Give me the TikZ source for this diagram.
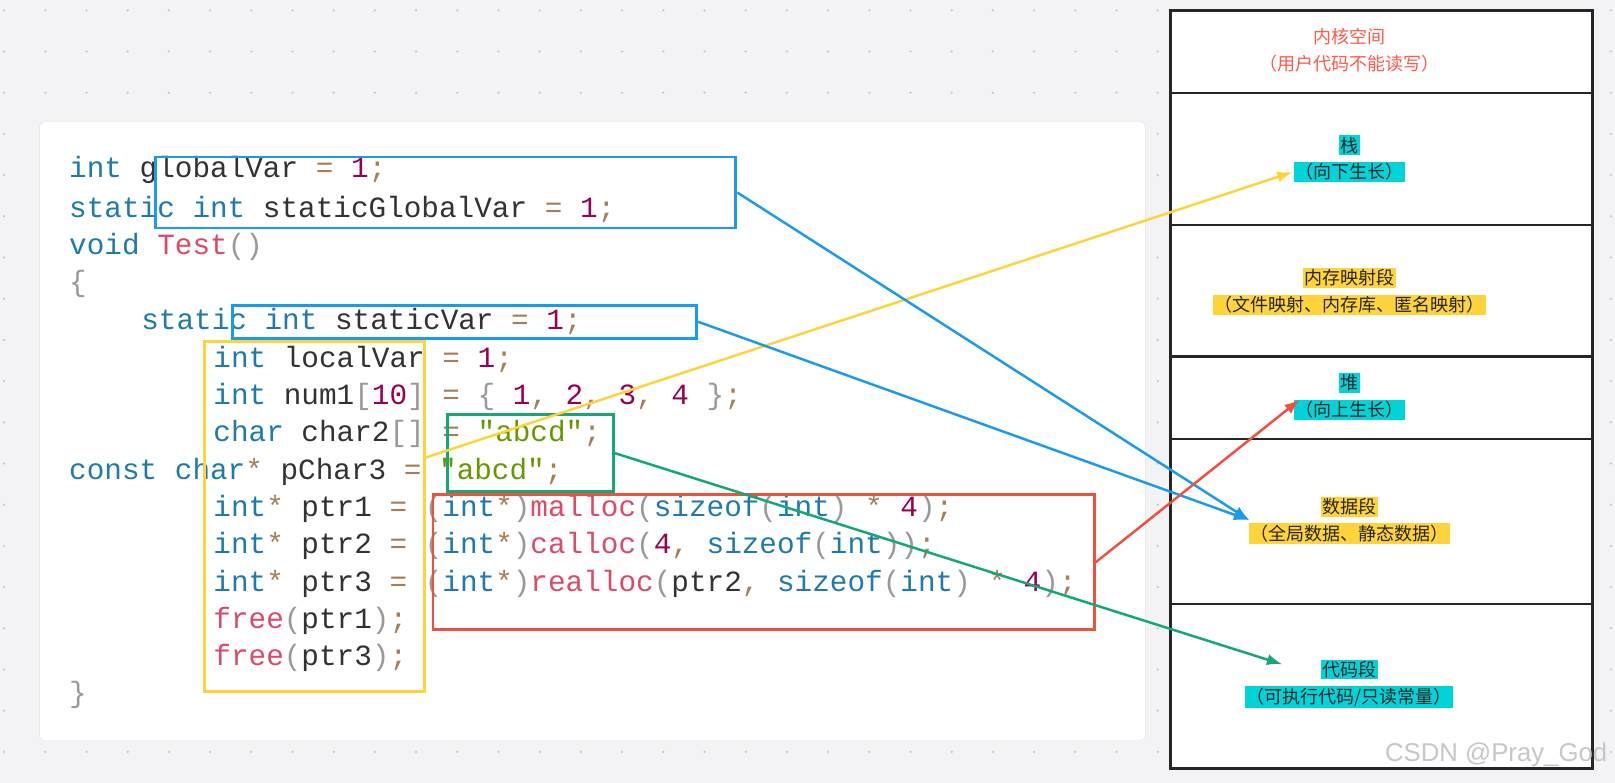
\documentclass[tikz,border=0pt]{standalone}
\usepackage{fontspec}
\setmonofont{Liberation Mono}
\newfontfamily\cjk{Noto Sans CJK SC}
\usetikzlibrary{arrows.meta}
\definecolor{bg}{HTML}{F3F3F5}
\definecolor{kw}{HTML}{1F7AAE}
\definecolor{pu}{HTML}{A67F59}
\definecolor{nmc}{HTML}{990055}
\definecolor{stc}{HTML}{669900}
\definecolor{fnc}{HTML}{DD4A68}
\definecolor{brc}{HTML}{999999}
\definecolor{idc}{HTML}{333333}
\definecolor{bb}{HTML}{1A9BF0}
\definecolor{yb}{HTML}{FFD43B}
\definecolor{gb}{HTML}{14A874}
\definecolor{rb}{HTML}{F2503F}
\definecolor{cy}{HTML}{00D4D8}
\definecolor{ye}{HTML}{FFD43B}
\definecolor{kred}{HTML}{FF5A4A}
\newcommand\kw[1]{\textcolor{kw}{#1}}
\newcommand\pu[1]{\textcolor{pu}{#1}}
\newcommand\nm[1]{\textcolor{nmc}{#1}}
\newcommand\cst[1]{\textcolor{stc}{#1}}
\newcommand\cfn[1]{\textcolor{fnc}{#1}}
\newcommand\cbr[1]{\textcolor{brc}{#1}}
\begin{document}
\begin{tikzpicture}[x=1pt,y=-1pt,
  code/.style={anchor=west,inner sep=0pt,font=\ttfamily\fontsize{28.5}{30}\selectfont,text=idc},
  hl/.style={draw=#1,line width=2.8pt,anchor=north west,inner sep=0pt},
  seg/.style={draw=black!85,line width=2.6pt,fill=white,anchor=north west,minimum width=410,inner sep=0pt},
  lab/.style={font=\cjk\fontsize{17.5}{19}\selectfont,inner sep=1.5pt,text=black!85},
  arr/.style={line width=2.4pt,draw=#1,-{Latex[length=15pt,width=11pt]}}]
\fill[bg] (0,0) rectangle (1568,760);
\useasboundingbox (0,0) rectangle (1568,760);
\foreach \i in {0,...,39}{\foreach \j in {0,...,18}{\fill[black!22] (4+\i*40,10+\j*40) circle (1.2);}}
\node[draw=black!12,fill=white!98!bg,rounded corners=6,anchor=north west,minimum width=1074,minimum height=601,inner sep=0pt] (panel) at (38,118) {};
% code
\node[code] (l1) at (67,165) {\kw{int} globalVar \pu{=} \nm{1}\pu{;}};
\node[code] (l2) at (67,203) {\kw{static int} staticGlobalVar \pu{=} \nm{1}\pu{;}};
\node[code] (l3) at (67,240) {\kw{void} \cfn{Test}\cbr{()}};
\node[code] (l4) at (67,276) {\cbr{\{}};
\node[code] (l5) at (137,312) {\kw{static int} staticVar \pu{=} \nm{1}\pu{;}};
\node[code] (l6) at (207,349) {\kw{int} localVar \pu{=} \nm{1}\pu{;}};
\node[code] (l7) at (207,385) {\kw{int} num1\cbr{[}\nm{10}\cbr{]} \pu{=} \cbr{\{} \nm{1}\pu{,} \nm{2}\pu{,} \nm{3}\pu{,} \nm{4} \cbr{\}}\pu{;}};
\node[code] (l8) at (207,421) {\kw{char} char2\cbr{[]} \pu{=} \cst{"abcd"}\pu{;}};
\node[code] (l9) at (67,458) {\kw{const char}\pu{*} pChar3 \pu{=} \cst{"abcd"}\pu{;}};
\node[code] (l10) at (207,494) {\kw{int}\pu{*} ptr1 \pu{=} \cbr{(}\kw{int}\pu{*}\cbr{)}\cfn{malloc}\cbr{(}\kw{sizeof}\cbr{(}\kw{int}\cbr{)} \pu{*} \nm{4}\cbr{)}\pu{;}};
\node[code] (l11) at (207,530) {\kw{int}\pu{*} ptr2 \pu{=} \cbr{(}\kw{int}\pu{*}\cbr{)}\cfn{calloc}\cbr{(}\nm{4}\pu{,} \kw{sizeof}\cbr{(}\kw{int}\cbr{))}\pu{;}};
\node[code] (l12) at (207,567) {\kw{int}\pu{*} ptr3 \pu{=} \cbr{(}\kw{int}\pu{*}\cbr{)}\cfn{realloc}\cbr{(}ptr2\pu{,} \kw{sizeof}\cbr{(}\kw{int}\cbr{)} \pu{*} \nm{4}\cbr{)}\pu{;}};
\node[code] (l13) at (207,603) {\cfn{free}\cbr{(}ptr1\cbr{)}\pu{;}};
\node[code] (l14) at (207,639) {\cfn{free}\cbr{(}ptr3\cbr{)}\pu{;}};
\node[code] (l15) at (67,675) {\cbr{\}}};
% highlight boxes
\node[hl=bb,minimum width=563,minimum height=69] (b1) at (150,151) {};
\node[hl=bb,minimum width=451,minimum height=32] (b2) at (224,295) {};
\node[hl=yb,minimum width=214,minimum height=340] (yl) at (197,330) {};
\node[hl=gb,minimum width=161,minimum height=75] (gr) at (433,401) {};
\node[hl=rb,minimum width=642,minimum height=131] (rd) at (419,479) {};
% memory layout
\node[seg,minimum height=80] (k) at (1135,9) {};
\node[seg,minimum height=128] (s) at (1135,89) {};
\node[seg,minimum height=128] (m) at (1135,217) {};
\node[seg,minimum height=80] (h) at (1135,345) {};
\node[seg,minimum height=160] (d) at (1135,425) {};
\node[seg,minimum height=160] (c) at (1135,585) {};
\node[lab,text=kred] (k1) at (1310,36) {内核空间};
\node[lab,text=kred] (k2) at (1310,62) {（用户代码不能读写）};
\node[lab,fill=cy] (s1) at (1310,141) {栈};
\node[lab,fill=cy] (s2) at (1310,167) {（向下生长）};
\node[lab,fill=ye] (m1) at (1310,270) {内存映射段};
\node[lab,fill=ye] (m2) at (1310,296) {（文件映射、内存库、匿名映射）};
\node[lab,fill=cy] (h1) at (1310,372) {堆};
\node[lab,fill=cy] (h2) at (1310,398) {（向上生长）};
\node[lab,fill=ye] (d1) at (1310,492) {数据段};
\node[lab,fill=ye] (d2) at (1310,518) {（全局数据、静态数据）};
\node[lab,fill=cy] (c1) at (1310,650) {代码段};
\node[lab,fill=cy] (c2) at (1310,677) {（可执行代码/只读常量）};
% arrows
\coordinate (ys) at (411,445);
\coordinate (tS) at (1255,167);
\coordinate (tD) at (1213,505);
\coordinate (tH) at (1262,388);
\coordinate (tC) at (1245,645);
\draw[arr=yb] (ys) -- (tS);
\draw[arr=bb] (b1.east) -- (tD);
\draw[arr=bb] (b2.east) -- (tD);
\draw[arr=gb] (gr.east) -- (tC);
\draw[arr=rb] (rd.east) -- (tH);
\node[font=\fontspec{Liberation Sans}\fontsize{25}{27}\selectfont,text=black!22,anchor=east] (wm) at (1564,733) {CSDN @Pray\_God};
\end{tikzpicture}
\end{document}
